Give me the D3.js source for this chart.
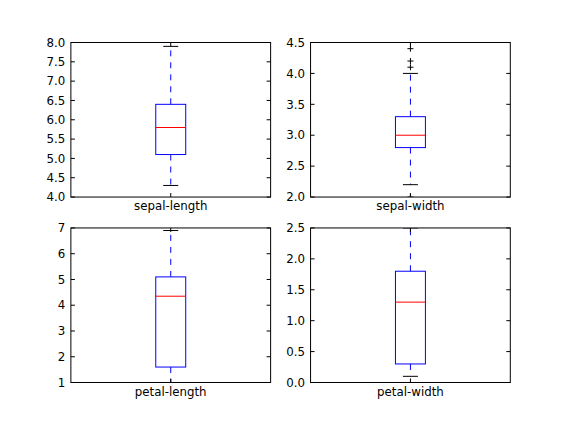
<!DOCTYPE html>
<html>
<head>
<meta charset="utf-8">
<script src="https://cdn.jsdelivr.net/npm/d3@7"></script>
<style>
  html, body { margin: 0; padding: 0; background: #fff; }
  svg { display: block; }
  text { font-family: "DejaVu Sans", sans-serif; fill: #000; }
</style>
</head>
<body>
<svg id="chart" width="567" height="425"></svg>
<script>
// ---- data (iris dataset box plot statistics) ----
const categories  = ["sepal-length", "sepal-width", "petal-length", "petal-width"];
const whiskerLow  = [4.3, 2.2, 1.0, 0.1];
const q1          = [5.1, 2.8, 1.6, 0.3];
const medians     = [5.8, 3.0, 4.35, 1.3];
const q3          = [6.4, 3.3, 5.1, 1.8];
const whiskerHigh = [7.9, 4.0, 6.9, 2.5];
const fliers      = [[], [4.4, 4.1, 4.2, 2.0], [], []];
const yDomains    = [[4, 8], [2, 4.5], [1, 7], [0, 2.5]];
const yTicks      = [
  [4.0, 4.5, 5.0, 5.5, 6.0, 6.5, 7.0, 7.5, 8.0],
  [2.0, 2.5, 3.0, 3.5, 4.0, 4.5],
  [1, 2, 3, 4, 5, 6, 7],
  [0.0, 0.5, 1.0, 1.5, 2.0, 2.5]
];
const yFormats    = [".1f", ".1f", "d", ".1f"];

// ---- layout (matplotlib default subplot params) ----
const W = 567, H = 425;
const L = 0.125 * W, R = 0.9 * W, T = 0.1 * H, B = 0.9 * H;
const axW = (R - L) / 2.2, axH = (B - T) / 2.2;
const fontPx = 12 * (W / 8) / 72;
const svg = d3.select("#chart");

categories.forEach((cat, i) => {
  const col = i % 2, row = Math.floor(i / 2);
  const x0 = L + col * axW * 1.2;
  const y0 = T + row * axH * 1.2;
  const g = svg.append("g").attr("transform", `translate(${x0},${y0})`);

  const x = d3.scaleLinear().domain([0.5, 1.5]).range([0, axW]);
  const y = d3.scaleLinear().domain(yDomains[i]).range([axH, 0]);

  const clipId = "clip" + i;
  g.append("clipPath").attr("id", clipId)
    .append("rect").attr("x", 0).attr("y", 0).attr("width", axW).attr("height", axH);
  const plot = g.append("g").attr("clip-path", `url(#${clipId})`);

  const bw = 0.15, cw = bw / 2;
  const cx = x(1);

  // whiskers (dashed blue)
  plot.append("line")
    .attr("x1", cx).attr("x2", cx).attr("y1", y(q1[i])).attr("y2", y(whiskerLow[i]))
    .attr("stroke", "#0000ff").attr("stroke-width", 1).attr("stroke-dasharray", "6,6");
  plot.append("line")
    .attr("x1", cx).attr("x2", cx).attr("y1", y(q3[i])).attr("y2", y(whiskerHigh[i]))
    .attr("stroke", "#0000ff").attr("stroke-width", 1).attr("stroke-dasharray", "6,6");

  // caps (black)
  [whiskerLow[i], whiskerHigh[i]].forEach(v => {
    plot.append("line")
      .attr("x1", x(1 - cw / 2)).attr("x2", x(1 + cw / 2))
      .attr("y1", y(v)).attr("y2", y(v))
      .attr("stroke", "#000").attr("stroke-width", 1);
  });

  // box (blue)
  plot.append("rect")
    .attr("x", x(1 - bw / 2)).attr("width", x(1 + bw / 2) - x(1 - bw / 2))
    .attr("y", y(q3[i])).attr("height", y(q1[i]) - y(q3[i]))
    .attr("fill", "none").attr("stroke", "#0000ff").attr("stroke-width", 1);

  // median (red)
  plot.append("line")
    .attr("x1", x(1 - bw / 2)).attr("x2", x(1 + bw / 2))
    .attr("y1", y(medians[i])).attr("y2", y(medians[i]))
    .attr("stroke", "#ff0000").attr("stroke-width", 1);

  // fliers (+)
  const fs = 3;
  fliers[i].forEach(v => {
    const fy = y(v);
    plot.append("path")
      .attr("d", `M${cx - fs},${fy}H${cx + fs}M${cx},${fy - fs}V${fy + fs}`)
      .attr("stroke", "#000").attr("stroke-width", 1).attr("fill", "none");
  });

  // ticks inside, on all sides
  const tl = 4;
  yTicks[i].forEach(t => {
    const ty = y(t);
    g.append("line").attr("x1", 0).attr("x2", tl).attr("y1", ty).attr("y2", ty)
      .attr("stroke", "#000").attr("stroke-width", 1);
    g.append("line").attr("x1", axW).attr("x2", axW - tl).attr("y1", ty).attr("y2", ty)
      .attr("stroke", "#000").attr("stroke-width", 1);
    g.append("text")
      .attr("x", -5.5).attr("y", ty).attr("dy", "0.36em")
      .attr("text-anchor", "end").style("font-size", fontPx + "px")
      .text(d3.format(yFormats[i])(t));
  });
  g.append("line").attr("x1", cx).attr("x2", cx).attr("y1", axH).attr("y2", axH - tl)
    .attr("stroke", "#000").attr("stroke-width", 1);
  g.append("line").attr("x1", cx).attr("x2", cx).attr("y1", 0).attr("y2", tl)
    .attr("stroke", "#000").attr("stroke-width", 1);

  // x tick label
  g.append("text")
    .attr("x", cx).attr("y", axH + 4).attr("dy", "0.78em")
    .attr("text-anchor", "middle").style("font-size", fontPx + "px")
    .text(cat);

  // frame
  g.append("rect").attr("x", 0).attr("y", 0).attr("width", axW).attr("height", axH)
    .attr("fill", "none").attr("stroke", "#000").attr("stroke-width", 1);
});
</script>
</body>
</html>
